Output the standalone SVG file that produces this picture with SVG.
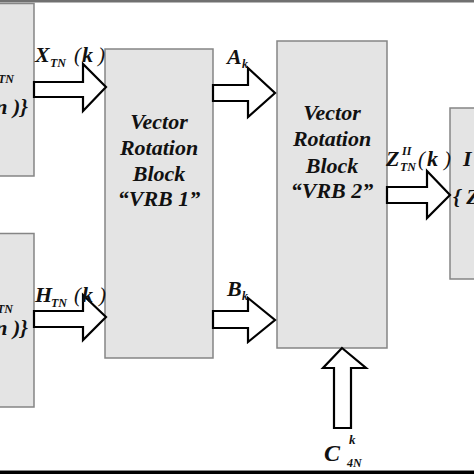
<svg xmlns="http://www.w3.org/2000/svg" width="474" height="474" viewBox="0 0 474 474">
<style>
.box{fill:#e4e4e4;stroke:#858585;stroke-width:1.5}
.arr{fill:#fff;stroke:#000;stroke-width:2.2;stroke-linejoin:miter}
text{font-family:"Liberation Serif","Times New Roman",serif;font-weight:bold;font-style:italic;fill:#111}
.big{font-size:22px}
.blk{font-size:22px;text-anchor:middle}
.sub{font-size:12px}
.par{font-size:21px;font-weight:normal}
</style>
<rect x="0" y="0" width="474" height="474" fill="#fff"/>
<rect x="0" y="0" width="474" height="2.5" fill="#707070"/>
<rect x="0" y="470" width="474" height="1" fill="#888"/>
<rect x="0" y="471" width="474" height="3" fill="#000"/>

<g id="in1">
<rect class="box" x="-5" y="3.5" width="39" height="172.5"/>
<text class="sub" x="14" y="83" text-anchor="end">TN</text>
<text class="big" x="28" y="114" text-anchor="end">{x( n )}</text>
</g>
<g id="in2">
<rect class="box" x="-5" y="233.5" width="39" height="173.5"/>
<text class="sub" x="13" y="313" text-anchor="end">TN</text>
<text class="big" x="28" y="335" text-anchor="end">{h( n )}</text>
</g>
<g id="vrb1">
<rect class="box" x="105" y="49" width="108" height="309"/>
<text class="blk" x="159" y="129">Vector</text>
<text class="blk" x="159" y="155">Rotation</text>
<text class="blk" x="159" y="181">Block</text>
<text class="blk" x="159" y="206">“VRB 1”</text>
</g>
<g id="vrb2">
<rect class="box" x="277" y="41" width="110" height="307"/>
<text class="blk" x="332" y="120">Vector</text>
<text class="blk" x="332" y="146">Rotation</text>
<text class="blk" x="332" y="173">Block</text>
<text class="blk" x="332" y="198">“VRB 2”</text>
</g>
<g id="out">
<rect class="box" x="450" y="108" width="40" height="171"/>
<text class="big" x="463" y="166">I</text>
<text class="big" x="453" y="204">{ Z</text>
</g>

<g id="connectors">
<polygon class="arr" points="34,82 83,82 83,64 106,87 83,111 83,97 34,97"/>
<polygon class="arr" points="34,311 83,311 83,295 106,317 83,340 83,327 34,327"/>
<polygon class="arr" points="213,85 248,85 248,68 275,93 248,117 248,101 213,101"/>
<polygon class="arr" points="213,311 248,311 248,298 275,320 248,342 248,328 213,328"/>
<polygon class="arr" points="387,187 427,187 427,171 450,195 427,218 427,203 387,203"/>
<polygon class="arr" points="342,348 366,368 351,368 351,428 334,428 334,368 323,368"/>
</g>

<g id="labels">
<text class="big" x="35" y="62">X</text>
<text class="sub" x="50" y="67">TN</text>
<text class="par" x="74" y="62">(</text>
<text class="big" x="82" y="62">k</text>
<text class="par" x="98" y="62">)</text>

<text class="big" x="35" y="302">H</text>
<text class="sub" x="51" y="307">TN</text>
<text class="par" x="74" y="302">(</text>
<text class="big" x="82" y="302">k</text>
<text class="par" x="99" y="302">)</text>

<text class="big" x="227" y="64">A</text>
<text class="sub" x="242" y="68">k</text>
<text class="big" x="227" y="296">B</text>
<text class="sub" x="242" y="300">k</text>

<text class="big" x="386" y="166">Z</text>
<text class="sub" x="402" y="155">II</text>
<text class="sub" x="400" y="171">TN</text>
<text class="par" x="418" y="166">(</text>
<text class="big" x="427" y="166">k</text>
<text class="par" x="444" y="166">)</text>

<text x="324" y="461" style="font-size:24px">C</text>
<text class="sub" x="349" y="444" style="font-size:13px">k</text>
<text class="sub" x="347" y="467">4N</text>
</g>
</svg>
